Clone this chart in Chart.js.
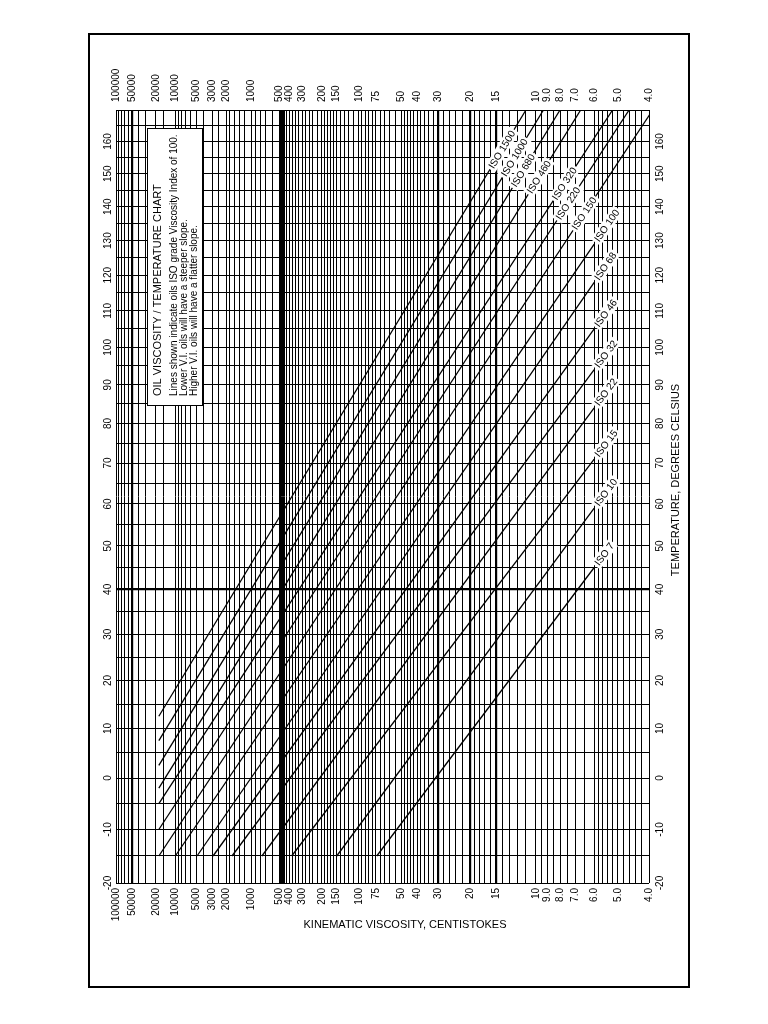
<!DOCTYPE html>
<html>
<head>
<meta charset="utf-8">
<title>Oil Viscosity / Temperature Chart</title>
<script src="https://cdn.jsdelivr.net/npm/chart.js@4.4.0/dist/chart.umd.min.js"></script>
<style>
  html, body { margin: 0; padding: 0; background: #fff; }
  #wrap { position: relative; width: 768px; height: 1024px; }
</style>
</head>
<body>
<div id="wrap"><canvas id="viscChart" width="768" height="1024"></canvas></div>
<script>
// ISO grade lines (VI 100), start and end of each straight line
const isoLabels = ['ISO 7', 'ISO 10', 'ISO 15', 'ISO 22', 'ISO 32', 'ISO 46', 'ISO 68', 'ISO 100',
                   'ISO 150', 'ISO 220', 'ISO 320', 'ISO 460', 'ISO 680', 'ISO 1000', 'ISO 1500'];
const startTemp = [-15, -15, -15, -15, -15, -15, -15, -15, -15, -10, -5, -2, 2.5, 7.5, 12.5];
const startVisc = [74, 150, 380, 770, 1700, 2950, 4850, 10000, 18000, 18000, 18000, 18000, 18000, 18000, 18000];
const endTemp = [45, 59, 71, 84, 94, 105, 118, 129, 170, 170, 170, 170, 170, 170, 170];
const endVisc = [6.0, 6.0, 6.0, 6.0, 6.0, 6.0, 6.0, 6.0, 3.9, 4.6, 5.2, 6.7, 8.0, 9.3, 11.0];
// temperature where the label sits on the line; null = label follows the end of the line
const labelTemp = [null, null, null, null, null, null, null, null, 138, 141, 147, 149, 151, 155, 157.5];

// grid lines
const viscGrid = [100000, 90000, 80000, 70000, 60000, 50000, 40000, 30000, 20000, 15000,
  10000, 9000, 8000, 7000, 6000, 5000, 4000, 3000, 2500, 2000, 1800, 1600, 1400, 1200,
  1000, 900, 800, 700, 600, 500, 490, 480, 470, 460, 450, 425, 400,
  375, 350, 325, 300, 280, 260, 240, 220,
  200, 190, 180, 170, 160, 150, 140, 130, 120, 110,
  100, 95, 90, 85, 80, 75, 70, 65, 60, 55, 50, 48, 46, 44, 42, 40,
  38, 36, 34, 32, 30, 28, 26, 24, 22, 20, 19, 18, 17, 16, 15, 14, 13, 12, 11, 10,
  9.5, 9, 8.5, 8, 7.5, 7, 6.5, 6, 5.8, 5.6, 5.4, 5.2, 5, 4.8, 4.6, 4.4, 4.2, 4];
const thickVisc = [50000, 500, 30, 20, 15];
const tempGrid = [-20, -15, -10, -5, 0, 5, 10, 15, 20, 25, 30, 35, 40, 45, 50, 55, 60, 65, 70, 75,
  80, 85, 90, 95, 100, 105, 110, 115, 120, 125, 130, 135, 140, 145, 150, 155, 160, 165, 170];
const thickTemp = [40];

// tick labels
const viscTicks = [100000, 50000, 20000, 10000, 5000, 3000, 2000, 1000, 500, 400, 300, 200, 150,
  100, 75, 50, 40, 30, 20, 15, 10, 9, 8, 7, 6, 5, 4];
const viscTickText = ['100000', '50000', '20000', '10000', '5000', '3000', '2000', '1000', '500', '400',
  '300', '200', '150', '100', '75', '50', '40', '30', '20', '15', '10', '9.0', '8.0', '7.0', '6.0', '5.0', '4.0'];
const tempTicks = [-20, -10, 0, 10, 20, 30, 40, 50, 60, 70, 80, 90, 100, 110, 120, 130, 140, 150, 160];

const noteLines = [
  'Lines shown indicate oils ISO grade Viscosity Index of 100.',
  'Lower V.I. oils will have a steeper slope.',
  'Higher V.I. oils will have a flatter slope.'
];

// ASTM D341 style axes: log log (v + 0.7) against log absolute temperature
const viscToX = v => Math.log10(Math.log10(v + 0.7));
const tempToY = t => Math.log10(t + 273.15);

const FONT = '"Liberation Sans", Arial, sans-serif';

const datasets = isoLabels.map((label, i) => ({
  label: label,
  data: [
    { x: viscToX(startVisc[i]), y: tempToY(startTemp[i]) },
    { x: viscToX(endVisc[i]), y: tempToY(endTemp[i]) }
  ],
  showLine: true,
  borderColor: '#000',
  borderWidth: 1.3,
  pointRadius: 0,
  fill: false
}));

const chartText = {
  id: 'chartText',
  afterDatasetsDraw(chart) {
    const ctx = chart.ctx;
    const yScale = chart.scales.y;
    ctx.save();
    ctx.font = '10px ' + FONT;
    ctx.textBaseline = 'middle';
    ctx.textAlign = 'center';
    isoLabels.forEach((label, i) => {
      const pts = chart.getDatasetMeta(i).data;
      const a = pts[0], b = pts[1];
      const ang = Math.atan2(b.y - a.y, b.x - a.x);
      const w = ctx.measureText(label).width;
      let cx, cy;
      if (labelTemp[i] === null) {
        const d = 4 + w / 2;
        cx = b.x + Math.cos(ang) * d;
        cy = b.y + Math.sin(ang) * d;
      } else {
        cy = yScale.getPixelForValue(tempToY(labelTemp[i]));
        cx = a.x + (b.x - a.x) * (cy - a.y) / (b.y - a.y);
      }
      ctx.save();
      ctx.translate(cx, cy);
      ctx.rotate(ang);
      ctx.fillStyle = '#fff';
      ctx.fillRect(-w / 2 - 2, -6, w + 4, 12);
      ctx.fillStyle = '#000';
      ctx.fillText(label, 0, 0.5);
      ctx.restore();
    });
    ctx.restore();
  },
  afterDraw(chart) {
    const ctx = chart.ctx;
    const area = chart.chartArea;
    const xScale = chart.scales.x;
    const yScale = chart.scales.y;
    ctx.save();
    ctx.fillStyle = '#000';
    ctx.textBaseline = 'middle';
    ctx.font = '10px ' + FONT;

    // temperature tick labels, both sides, turned a quarter
    tempTicks.forEach(t => {
      const y = yScale.getPixelForValue(tempToY(t));
      [area.left - 8, area.right + 11].forEach(x => {
        ctx.save();
        ctx.translate(x, y);
        ctx.rotate(-Math.PI / 2);
        ctx.textAlign = 'center';
        ctx.fillText(String(t), 0, 0);
        ctx.restore();
      });
    });

    // viscosity tick labels top and bottom
    viscTicks.forEach((v, i) => {
      const x = xScale.getPixelForValue(viscToX(v));
      ctx.save();
      ctx.translate(x, area.top - 8);
      ctx.rotate(-Math.PI / 2);
      ctx.textAlign = 'left';
      ctx.fillText(viscTickText[i], 0, 0);
      ctx.restore();
      ctx.save();
      ctx.translate(x, area.bottom + 5);
      ctx.rotate(-Math.PI / 2);
      ctx.textAlign = 'right';
      ctx.fillText(viscTickText[i], 0, 0);
      ctx.restore();
    });

    // axis titles
    ctx.font = '11px ' + FONT;
    ctx.textAlign = 'center';
    ctx.fillText('KINEMATIC VISCOSITY, CENTISTOKES', area.left + 289, area.bottom + 42);
    ctx.save();
    ctx.translate(area.right + 27, area.top + 370);
    ctx.rotate(-Math.PI / 2);
    ctx.fillText('TEMPERATURE, DEGREES CELSIUS', 0, 0);
    ctx.restore();

    // note box
    const bx = area.left + 31, by = area.top + 18, bw = 55, bh = 277;
    ctx.fillStyle = '#fff';
    ctx.fillRect(bx, by, bw, bh);
    ctx.strokeStyle = '#000';
    ctx.lineWidth = 1;
    ctx.strokeRect(bx + 0.5, by + 0.5, bw, bh);
    ctx.fillStyle = '#000';
    ctx.textAlign = 'left';
    ctx.save();
    ctx.translate(bx + 11, by + bh - 9);
    ctx.rotate(-Math.PI / 2);
    ctx.font = '11px ' + FONT;
    ctx.fillText('OIL VISCOSITY / TEMPERATURE CHART', 0, 0);
    ctx.font = '10px ' + FONT;
    noteLines.forEach((line, i) => {
      ctx.fillText(line, 0, 16 + i * 10);
    });
    ctx.restore();

    // page frame
    ctx.strokeStyle = '#000';
    ctx.lineWidth = 2;
    ctx.strokeRect(89, 34, 600, 953);
    ctx.restore();
  }
};

new Chart(document.getElementById('viscChart'), {
  type: 'scatter',
  data: { datasets: datasets },
  options: {
    responsive: false,
    animation: false,
    layout: { padding: { left: 116, right: 119, top: 110, bottom: 141 } },
    plugins: {
      legend: { display: false },
      tooltip: { enabled: false }
    },
    scales: {
      x: {
        type: 'linear',
        reverse: true,
        min: viscToX(4),
        max: viscToX(100000),
        afterFit: s => { s.height = 0; },
        afterBuildTicks: s => { s.ticks = viscGrid.map(v => ({ value: viscToX(v) })); },
        ticks: { display: false },
        border: { display: false },
        grid: {
          color: '#000',
          drawTicks: false,
          lineWidth: c => (c.tick && thickVisc.some(v => Math.abs(viscToX(v) - c.tick.value) < 1e-9)) ? 2.2 : 1
        }
      },
      y: {
        type: 'linear',
        min: tempToY(-20),
        max: tempToY(170),
        afterFit: s => { s.width = 0; },
        afterBuildTicks: s => { s.ticks = tempGrid.map(t => ({ value: tempToY(t) })); },
        ticks: { display: false },
        border: { display: false },
        grid: {
          color: '#000',
          drawTicks: false,
          lineWidth: c => (c.tick && thickTemp.some(t => Math.abs(tempToY(t) - c.tick.value) < 1e-9)) ? 2.2 : 1
        }
      }
    }
  },
  plugins: [chartText]
});
</script>
</body>
</html>
